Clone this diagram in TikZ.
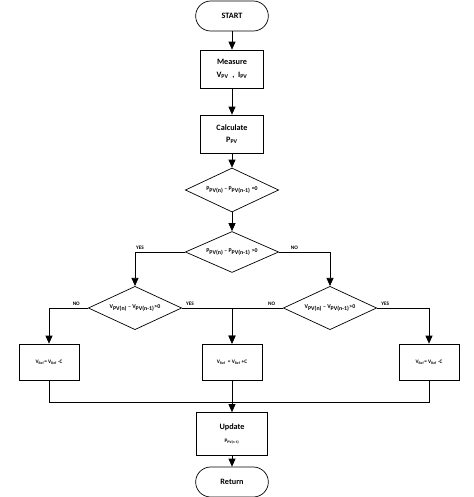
\documentclass[tikz,border=0pt]{standalone}
\usepackage{fontspec}
\setmainfont{Carlito}
\usetikzlibrary{arrows.meta, positioning, shapes.geometric}

\begin{document}
\begin{tikzpicture}[
    line width=0.6pt,
    every node/.style={font=\bfseries\fontsize{7}{8.5}\selectfont, align=center},
    term/.style={draw, rounded corners=0.45cm, minimum width=2.18cm, minimum height=0.9cm},
    proc/.style={draw, minimum width=1.89cm, minimum height=1.14cm},
    refbox/.style={draw, minimum width=1.8cm, minimum height=1.08cm, font=\bfseries\fontsize{4.5}{5.5}\selectfont},
    test/.style={draw, diamond, aspect=2.2, inner sep=0pt, minimum width=2.8cm, minimum height=1.3cm, font=\bfseries\fontsize{5}{6}\selectfont},
    lbl/.style={font=\bfseries\fontsize{4.5}{5}\selectfont, inner sep=1.5pt},
    arr/.style={-{Triangle[length=2.4mm, width=2.1mm]}}
  ]
    \useasboundingbox (0,0) rectangle (14.22,-14.91);

    \node[term] (start) at (6.96,-0.48) {START};
    \node[proc] (meas) at (6.96,-2.07) {Measure\\[3pt]V\textsubscript{PV}~ ,~ I\textsubscript{PV}};
    \node[proc] (calc) at (6.96,-4.02) {Calculate\\[2pt]P\textsubscript{PV}};
    \node[test, minimum height=1.32cm] (dzero) at (6.96,-5.70) {P\textsubscript{PV(n)}\,– P\textsubscript{PV(n-1)} =0};
    \node[test, minimum height=1.23cm] (dpow) at (6.96,-7.56) {P\textsubscript{PV(n)}\,– P\textsubscript{PV(n-1)} >0};
    \node[test] (dvl) at (4.05,-9.24) {V\textsubscript{PV(n)}\,– V\textsubscript{PV(n-1)}>0};
    \node[test] (dvr) at (9.90,-9.24) {V\textsubscript{PV(n)}\,– V\textsubscript{PV(n-1)}>0};

    \node[refbox] (decl) at (1.47,-10.86) {V\textsubscript{Ref}= V\textsubscript{Ref} -C};
    \node[refbox] (incm) at (6.96,-10.86) {V\textsubscript{Ref} ~= V\textsubscript{Ref} +C};
    \node[refbox] (decr) at (12.87,-10.86) {V\textsubscript{Ref}= V\textsubscript{Ref} -C};

    \coordinate (merge) at (6.96,-12.06);
    \node[proc, minimum width=2.13cm, minimum height=1.29cm] (upd) at (6.96,-13.02) {Update\\[2pt]{\fontsize{4.5}{5}\selectfont P\textsubscript{PV(n-1)}}};
    \node[term] (ret) at (6.96,-14.46) {Return};

    % main column
    \draw[arr] (start) -- (meas);
    \draw[arr] (meas) -- (calc);
    \draw[arr] (calc) -- (dzero);
    \draw[arr] (dzero) -- (dpow);

    % branches
    \draw[arr] (dpow.west) -| node[lbl, pos=0.45, above] {YES} (dvl.north);
    \draw[arr] (dpow.east) -| node[lbl, pos=0.15, above] {NO} (dvr.north);
    \draw[arr] (dvl.west) -| node[lbl, pos=0.15, above] {NO} (decl.north);
    \draw[arr] (dvl.east) -| node[lbl, pos=0.08, above] {YES} (incm.north);
    \draw[arr] (dvr.west) -| node[lbl, pos=0.11, above] {NO} (incm.north);
    \draw[arr] (dvr.east) -| node[lbl, pos=0.08, above] {YES} (decr.north);

    % merge
    \draw (decl.south) |- (merge);
    \draw (decr.south) |- (merge);
    \draw[arr] (incm.south) -- (upd.north);
    \draw[arr] (upd) -- (ret);
  \end{tikzpicture}
\end{document}
